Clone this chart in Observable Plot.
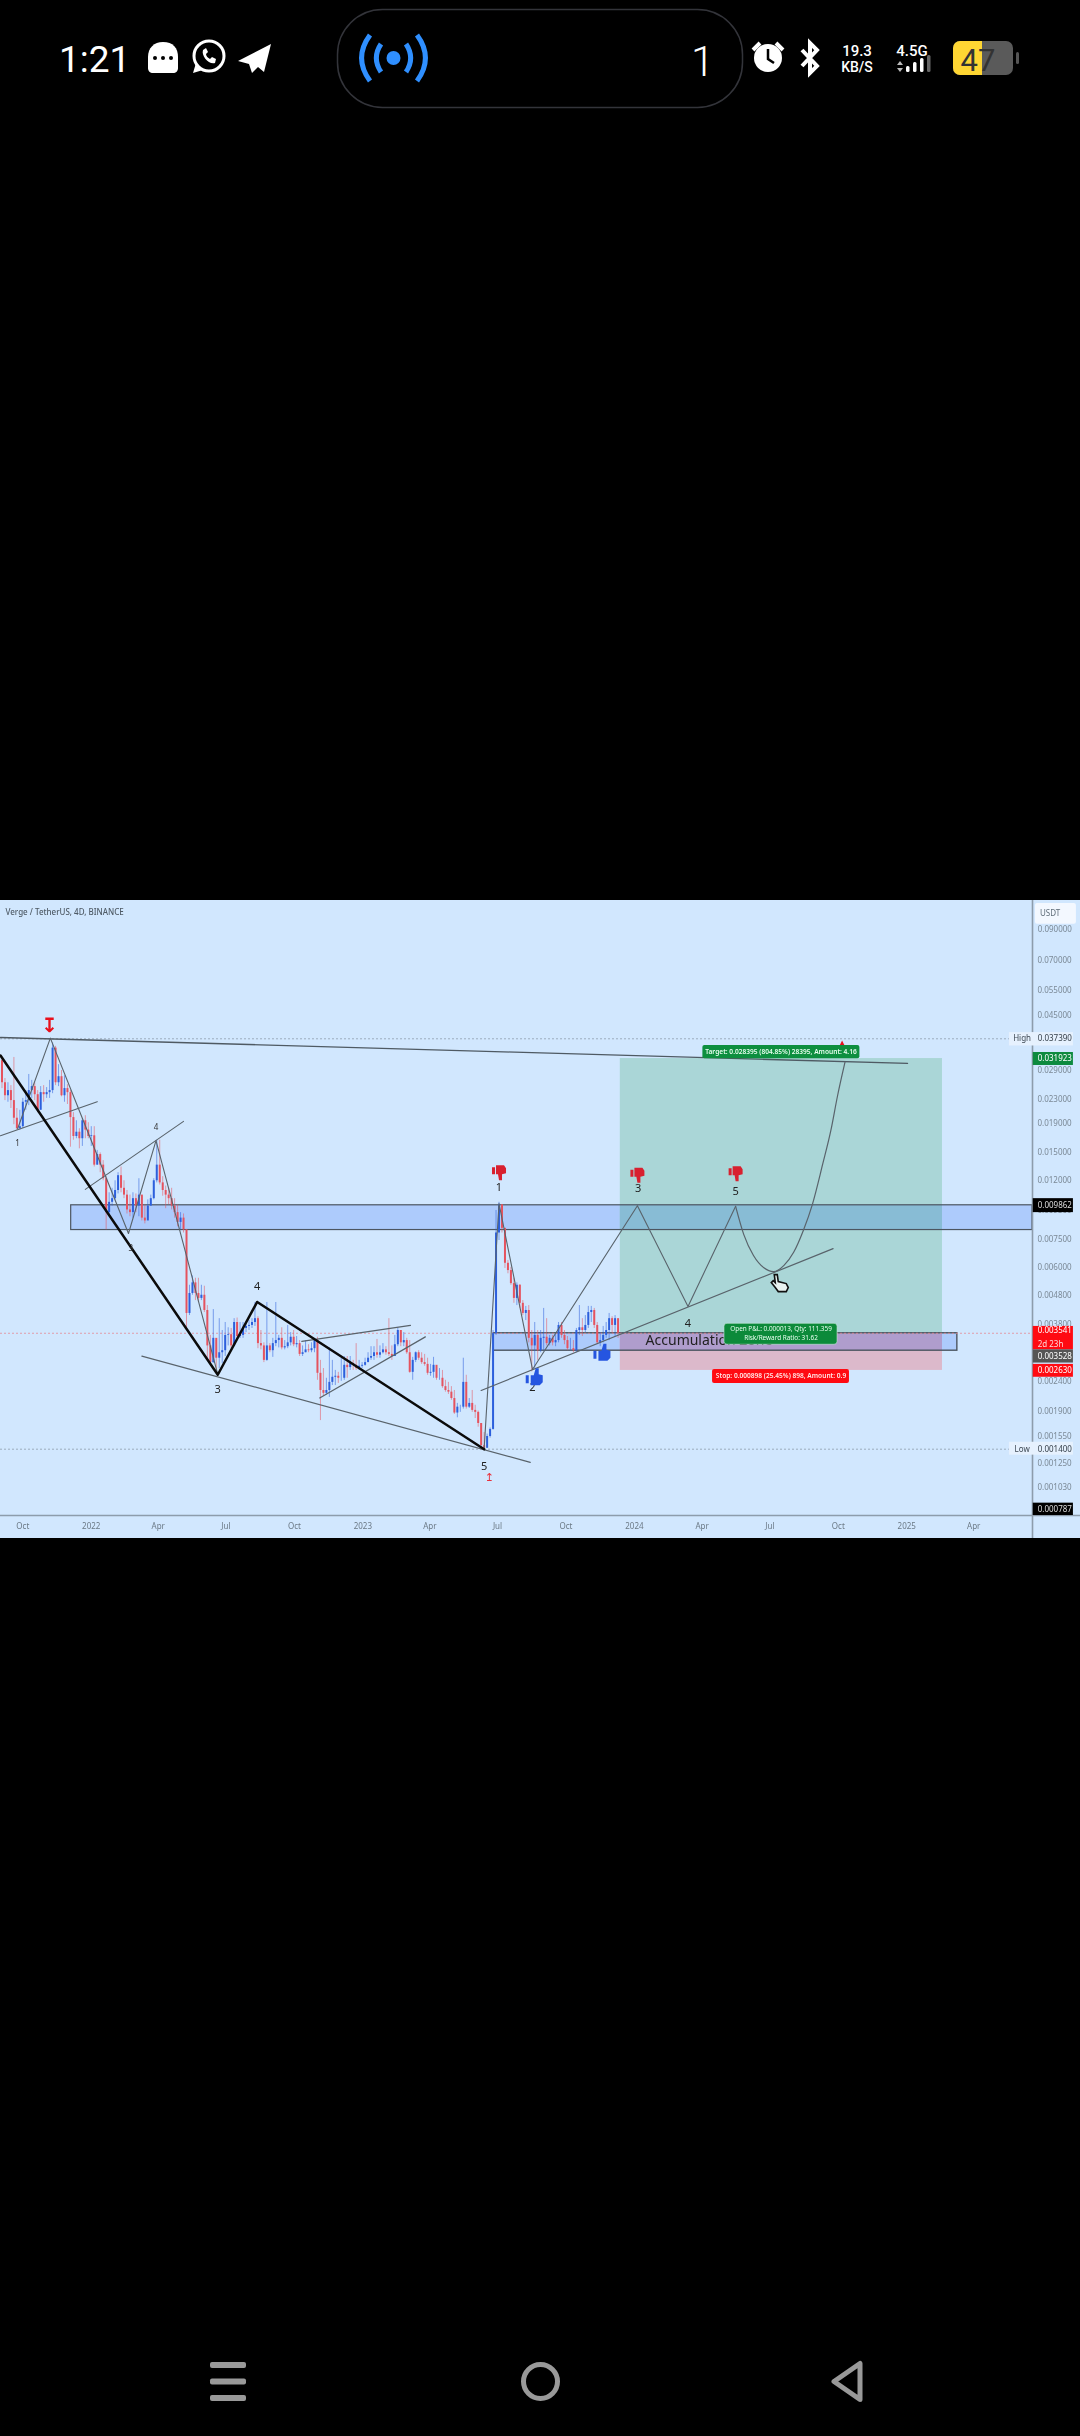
<!DOCTYPE html>
<html>
<head>
<meta charset="utf-8">
<script src="https://cdn.jsdelivr.net/npm/d3@7"></script>
<script src="https://cdn.jsdelivr.net/npm/@observablehq/plot@0.6"></script>
<style>
html,body{margin:0;padding:0;background:#000;width:1080px;height:2436px;overflow:hidden}
#chart{position:absolute;left:0;top:900px;width:1080px;height:638px;filter:blur(.45px)}
#chart svg{display:block}
.chrome{position:absolute;left:0;width:1080px}
</style>
</head>
<body>
<svg class="chrome" style="top:0" width="1080" height="120" viewBox="0 0 1080 120">
  <rect x="337.500" y="9.500" width="405" height="98" rx="45" fill="#000" stroke="#33343a" stroke-width="1.500"/>
  <text x="59" y="72" fill="#fff" font-family="Roboto" font-size="37">1:21</text>
  <path d="M163 42c10 0 15 6 15 15v11c0 3-2 5-5 5h-20c-3 0-5-2-5-5V57c0-9 6-15 15-15z" fill="#fff"/>
  <circle cx="155" cy="58" r="2" fill="#000"/><circle cx="163" cy="58" r="2" fill="#000"/><circle cx="171" cy="58" r="2" fill="#000"/>
  <circle cx="209" cy="56" r="15" fill="none" stroke="#fff" stroke-width="3"/><path d="M196 63l-3 10 10-3z" fill="#fff"/>
  <path d="M203 50c-2 6 6 15 12 13l1-4-4-2-2 2c-2-1-4-3-4-5l2-2-2-4z" fill="#fff"/>
  <path d="M271 44l-33 17 11 3 3 9 6-6 6 5z" fill="#fff"/>
  <g fill="none" stroke="#2f8fff" stroke-width="5">
    <path d="M370 35c-11 15-11 31 0 46"/><path d="M417 35c11 15 11 31 0 46"/>
    <path d="M381 44c-6 9-6 19 0 28"/><path d="M406 44c6 9 6 19 0 28"/>
  </g>
  <circle cx="393.500" cy="58" r="7" fill="#2f8fff"/>
  <text x="691" y="76" fill="#fff" font-family="Roboto" font-weight="300" font-size="42">1</text>
  <circle cx="768" cy="58" r="14" fill="#fff"/>
  <path d="M768 49v10l6 4" fill="none" stroke="#000" stroke-width="2.500"/>
  <path d="M753 50l7-7M783 50l-7-7" stroke="#fff" stroke-width="4"/>
  <path d="M802 50l15 16-7 7V43l7 7-15 16" fill="none" stroke="#fff" stroke-width="4"/>
  <text x="857" y="56" fill="#fff" font-family="Roboto" font-weight="500" font-size="15" text-anchor="middle">19.3</text>
  <text x="857" y="72" fill="#fff" font-family="Roboto" font-weight="500" font-size="14" text-anchor="middle">KB/S</text>
  <text x="912" y="56" fill="#fff" font-family="Roboto" font-weight="500" font-size="15" text-anchor="middle">4.5G</text>
  <path d="M897 65l3-4 3 4zM897 68l3 4 3-4z" fill="#bbb"/>
  <rect x="906" y="66" width="3.500" height="6" rx="1.500" fill="#fff"/><rect x="913" y="62" width="3.500" height="10" rx="1.500" fill="#fff"/>
  <rect x="920" y="58" width="3.500" height="14" rx="1.500" fill="#fff"/><rect x="927" y="55" width="3.500" height="17" rx="1.500" fill="#666"/>
  <rect x="953" y="41" width="60" height="34" rx="7" fill="#5a5a5a"/>
  <path d="M960 41h22v34h-22a7 7 0 0 1-7-7V48a7 7 0 0 1 7-7z" fill="#ffd633"/>
  <rect x="1016" y="52" width="3" height="12" rx="1.500" fill="#555"/>
  <text x="978" y="71" fill="#333" font-family="Roboto" font-size="31" text-anchor="middle">47</text>
</svg>
<div id="chart"></div>
<svg class="chrome" style="top:2340px" width="1080" height="90" viewBox="0 0 1080 90">
  <g fill="#999"><rect x="210" y="22" width="36" height="6" rx="2"/><rect x="210" y="38.500" width="36" height="6" rx="2"/><rect x="210" y="55" width="36" height="6" rx="2"/></g>
  <circle cx="540.500" cy="41.500" r="17" fill="none" stroke="#999" stroke-width="5"/>
  <path d="M860 23.500v36L834 41.500z" fill="none" stroke="#999" stroke-width="5" stroke-linejoin="round"/>
</svg>
<script>
// ---- 4-day candles, in thousandths of USDT ----
const firstCandle = "2021-09-03";
const candleStepDays = 4;
const firstOpen = 31.4;
const closes = [
26.3,23.7,24.7,22.8,19.8,18.2,18.5,22.5,22.8,24.7,
25.5,23.9,21.1,24.3,23.9,24.3,24.7,34.7,26.3,27.6,
23.7,25.1,24.3,19.9,17.1,17.7,16.8,19.4,18.0,17.1,
17.2,13.6,14.8,13.6,12.2,9.3,10.1,10.4,11.1,12.5,
11.3,10.7,9.5,9.3,10.4,9.8,10.7,8.9,8.7,9.8,
10.4,12.0,13.6,11.8,11.1,10.7,10.4,9.8,9.3,8.6,
8.9,8.1,4.15,4.87,5.3,4.87,4.68,4.8,4.25,3.2,
2.8,3.4,2.9,3.03,3.08,3.48,3.5,3.2,3.86,3.45,
3.48,3.68,3.74,3.77,3.86,3.98,3.26,3.2,2.85,3.2,
3.08,3.26,3.34,3.4,3.15,3.18,3.28,3.43,3.23,3.26,
2.99,3.03,3.1,3.08,3.13,3.34,2.57,2.24,2.19,2.24,
2.39,2.49,2.51,2.47,2.47,2.74,2.69,2.78,2.74,2.67,
2.72,2.74,2.8,2.9,2.94,3.03,2.97,3.03,3.1,3.03,
2.99,2.94,3.23,3.62,3.28,3.34,3.03,2.59,2.85,3.03,
2.9,2.8,2.76,2.57,2.59,2.74,2.47,2.47,2.31,2.24,
2.21,2.1,1.87,1.96,1.96,2.39,1.96,2.02,1.91,1.88,
1.72,1.44,1.41,1.55,1.64,3.53,7.9,9.9,8.2,6.2,
5.85,5.27,4.68,5.2,4.5,4.15,4.25,3.4,3.2,3.48,
3.08,3.4,3.43,3.26,3.4,3.28,3.34,3.77,3.48,3.34,
3.13,3.13,3.08,3.62,3.7,3.62,3.77,4.18,4.25,3.77,
3.28,3.34,3.48,3.62,3.98,3.77,3.98,3.541];
const highs = [
32.2,27.2,26.3,25.7,32.2,21.4,21.1,23.2,24.7,28.1,
26.8,26.3,24.7,25.5,25.7,25.3,26.8,36.2,35.2,30.4,
29.0,27.8,25.9,24.7,20.7,19.4,18.2,19.7,20.2,19.1,
18.5,18.5,15.3,15.0,14.1,12.4,10.9,11.3,12.0,12.8,
13.4,12.0,11.1,10.7,10.9,10.8,12.2,10.6,9.9,10.3,
10.7,12.2,16.6,16.6,12.4,11.5,11.3,11.3,10.4,9.9,
9.3,9.2,8.1,5.2,5.6,5.5,5.5,5.2,5.16,4.42,
3.48,4.28,3.34,3.98,3.62,3.86,3.7,3.68,3.98,4.0,
3.86,3.86,3.86,3.92,3.98,4.53,4.04,3.62,3.28,4.53,
3.26,3.4,4.53,3.48,3.7,3.34,3.77,3.56,3.62,3.45,
3.34,3.2,3.34,3.23,3.28,3.4,3.43,2.85,2.67,2.47,
3.15,2.85,2.63,2.59,2.9,2.94,2.94,2.94,2.85,3.26,
2.85,2.8,2.9,3.03,3.18,3.18,3.37,3.2,3.26,3.18,
3.98,3.2,3.48,3.68,3.62,3.56,3.4,3.34,2.92,3.05,
3.08,3.03,2.99,2.9,2.76,2.92,2.72,2.67,2.63,2.43,
2.39,2.31,2.24,2.02,1.99,2.9,2.53,2.1,2.24,1.99,
1.9,1.72,1.6,1.58,1.66,3.62,9.46,10.1,9.5,8.2,
6.34,6.0,5.5,5.3,5.23,4.6,4.39,4.42,3.62,3.86,
3.62,3.62,4.32,3.98,3.48,3.48,3.5,3.86,3.86,3.62,
3.45,3.4,3.34,3.68,4.42,3.98,4.08,4.39,4.39,4.32,
3.86,3.56,3.74,3.86,4.15,4.04,4.08,3.92];
const lows = [
25.1,22.8,22.5,21.4,18.8,18.0,18.0,18.2,21.1,21.9,
23.2,22.8,20.7,21.1,22.5,23.2,23.2,24.1,25.7,25.5,
23.5,22.5,22.1,15.7,16.6,16.8,15.5,15.8,16.8,16.8,
15.8,13.4,13.6,12.8,12.0,8.1,9.1,9.8,10.3,10.8,
10.9,10.4,9.2,9.0,8.9,9.3,9.0,8.7,8.5,8.9,
9.8,10.3,11.8,11.6,10.6,9.6,9.9,9.5,8.9,8.3,
8.1,7.9,3.68,4.08,4.8,4.6,4.53,4.6,4.18,2.85,
2.76,2.78,2.59,2.67,2.78,2.94,3.2,3.13,3.18,3.34,
3.4,3.4,3.56,3.62,3.68,3.74,3.13,3.1,2.8,2.83,
3.03,2.92,3.18,3.15,3.1,3.1,3.13,3.2,3.18,3.15,
2.94,2.94,3.03,3.03,3.03,3.03,2.43,1.76,2.14,2.16,
2.12,2.33,2.33,2.37,2.41,2.43,2.47,2.63,2.63,2.63,
2.63,2.67,2.72,2.8,2.85,2.85,2.9,2.9,3.0,2.97,
2.94,2.85,2.94,3.18,3.18,3.18,2.99,2.57,2.43,2.8,
2.85,2.76,2.72,2.53,2.51,2.47,2.43,2.43,2.28,2.21,
2.17,2.07,1.85,1.8,1.88,1.93,1.93,1.94,1.88,1.79,
1.67,1.41,1.4,1.42,1.53,1.63,3.48,7.44,7.9,5.95,
5.7,5.2,4.5,4.42,4.33,4.08,3.92,3.28,2.6,2.67,
2.85,3.03,3.08,3.2,3.2,3.2,3.18,3.28,3.4,3.23,
3.08,3.08,3.03,3.03,3.48,3.45,3.56,3.68,3.86,3.68,
3.23,3.18,3.28,3.4,3.34,3.53,3.45,3.4];

// ---- Time scale: offsets in days from the left edge of the chart ----
const chartStart = "2021-09-01";
const chartEndDays = 1387.3;
const day = n => d3.utcDay.offset(new Date(chartStart + "T00:00:00Z"), n);

// ---- Axes ----
const priceTicks = [70,55,45,29,23,19,15,12,9.5,7.5,6,4.8,3.8,2.4,1.9,1.55,1.25,1.03];
const topTick = 90;
const priceDomain = [0.8235,113.1];
const timeTickDates = ["2021-10-01","2022-01-01","2022-04-01","2022-07-01","2022-10-01","2023-01-01","2023-04-01","2023-07-01","2023-10-01","2024-01-01","2024-04-01","2024-07-01","2024-10-01","2025-01-01","2025-04-01"];
const timeTickLabels = ["Oct","2022","Apr","Jul","Oct","2023","Apr","Jul","Oct","2024","Apr","Jul","Oct","2025","Apr"];

// ---- Key prices ----
const pHigh = 37.39, pLow = 1.4, pLast = 3.541, pEntry = 3.528, pTarget = 31.923, pStop = 2.63;
const supplyZone = {d1:95.4,d2:chartEndDays,p1:8.09,p2:9.862};
const accumZone = {d1:663,d2:1286.5,p1:3.08,p2:3.541};
const positionDays = [833.5,1266];

// ---- Drawn lines: [offset days, price] ----
const topTrend = [[0,37.8],[1219,30.7]];
const thickWave = [[0,32.7],[292,2.54],[345,4.55],[650,1.4]];
const thinWave = [[23,18.2],[67,37.6],[110,19.8],[172,7.87],[209,16.56],[292,2.55]];
const channelA = [[0,17.2],[130,22.6]];
const channelB = [[114,11.2],[246,19.3]];
const wedgeLow = [[190,2.95],[712.5,1.26]];
const wedgeUpper = [[405.6,3.32],[551,3.77]];
const wedgeRise = [[429,2.11],[571,3.44]];
const riseTrend = [[646,2.24],[1119,6.97]];
const projection = [[650,1.4],[670,10.0],[715,2.65],[856,9.83],[924.5,4.39],[988,9.78]];
const projectionCurve = [[988,9.78],[999,7.8],[1012,6.6],[1026,5.98],[1039,5.8],[1053,6.1],[1066,6.77],[1079.5,8.06],[1091,9.9],[1105,13.7],[1116,17.95],[1125,23.7],[1135,31.0]];

// ---- Wave labels: [offset days, price, text] ----
const waveSmall = [[23,16.17,"1"],[209,18.4,"4"],[175,6.98,"3"]];
const waveLabels = [[292.5,2.26,"3"],[345,5.15,"4"],[650,1.22,"5"],[670,11.37,"1"],[715,2.3,"2"],[857,11.28,"3"],[924.5,3.83,"4"],[988,11.0,"5"]];
const thumbsDown = [[670,12.85],[856,12.6],[988,12.75]];
const thumbsUp = [[718,2.49],[809,3.03]];

// ---- Right-hand price tags ----
const tagX = [1388,1442.5], pillX = [1356,1442.5];
const priceTags = [
  {p1:30.2,p2:33.5,fill:"#0d8a3e",text:"0.031923",at:pTarget,ink:"#fff"},
  {p1:9.3,p2:10.4,fill:"#000",text:"0.009862",at:9.862,ink:"#ddd"},
  {p1:3.1,p2:3.74,fill:"#ff0a12",text:"0.003541",at:3.62,ink:"#fff"},
  {p1:2.79,p2:3.1,fill:"#555",text:"0.003528",at:2.94,ink:"#fff"},
  {p1:2.49,p2:2.76,fill:"#ff0a12",text:"0.002630",at:pStop,ink:"#fff"},
  {p1:0.8235,p2:0.909,fill:"#000",text:"0.000787",at:0.865,ink:"#ddd"}
];

const candles = closes.map((c,i)=>({
  date: d3.utcDay.offset(new Date(firstCandle+"T00:00:00Z"), i*candleStepDays),
  open: i ? closes[i-1] : firstOpen, close:c, high:highs[i], low:lows[i]
}));
const up = candles.filter(d=>d.close>=d.open), down = candles.filter(d=>d.close<d.open);
const RED="#e5535f", BLUE="#2c5fdc", UI='"Noto Sans"';
const pts = a => a.map(([d,p])=>({x:day(d),y:p}));
const box = (d1,d2,p1,p2,o) => Plot.rect([{}],{x1:day(d1),x2:day(d2),y1:p1,y2:p2,...o});
const path = (a,o) => Plot.line(pts(a),{x:"x",y:"y",...o});

const thumbDown = {draw(c){c.moveTo(-7,-5);c.lineTo(-4,-5);c.lineTo(-4,2);c.lineTo(-7,2);c.closePath();
  c.moveTo(-3,-7);c.lineTo(5,-7);c.lineTo(7,-4);c.lineTo(7,1);c.lineTo(3,2);c.lineTo(3,8);c.lineTo(0,8);c.lineTo(-1,2);c.lineTo(-3,2);c.closePath();}};
const thumbUp = {draw(c){c.moveTo(-9,-2);c.lineTo(-6,-2);c.lineTo(-6,6);c.lineTo(-9,6);c.closePath();
  c.moveTo(-4,-2);c.lineTo(-1,-2);c.lineTo(1,-9);c.lineTo(4,-9);c.lineTo(4,-3);c.lineTo(8,-2);c.lineTo(8,5);c.lineTo(5,8);c.lineTo(-4,8);c.closePath();}};
const handCursor = {draw(c){c.moveTo(-6,-9);c.lineTo(-3,-9);c.lineTo(-2,-2);c.lineTo(6,0);c.lineTo(8,4);c.lineTo(6,8);c.lineTo(-2,8);c.lineTo(-5,4);c.lineTo(-9,-1);c.lineTo(-7,-3);c.lineTo(-5,-1);c.closePath();}};

const chart = Plot.plot({
  width:1080, height:638,
  marginLeft:0, marginRight:48, marginTop:0, marginBottom:23,
  style:{background:"#d1e7fe",fontFamily:UI,overflow:"visible"},
  x:{type:"utc",domain:[day(0),day(chartEndDays)],axis:null},
  y:{type:"log",domain:priceDomain,axis:null},
  marks:[
    // zones and position
    box(supplyZone.d1,supplyZone.d2,supplyZone.p1,supplyZone.p2,{fill:"#adcbfc"}),
    box(accumZone.d1,accumZone.d2,accumZone.p1,accumZone.p2,{fill:"#adcbfc"}),
    box(positionDays[0],positionDays[1],pEntry,pTarget,{fill:"#aad6d7"}),
    box(positionDays[0],positionDays[1],pStop,pEntry,{fill:"#dcb9cb"}),
    box(positionDays[0],positionDays[1],supplyZone.p1,supplyZone.p2,{fill:"#88bcd5"}),
    box(positionDays[0],positionDays[1],accumZone.p1,pEntry,{fill:"#af9dcd"}),
    box(supplyZone.d1,supplyZone.d2,supplyZone.p1,supplyZone.p2,{stroke:"#4c5560",strokeWidth:1.2}),
    box(accumZone.d1,accumZone.d2,accumZone.p1,accumZone.p2,{stroke:"#4c5560",strokeWidth:1.4}),
    // reference lines
    Plot.ruleY([pHigh,pLow],{stroke:"#8f9dac",strokeWidth:.8,strokeDasharray:"2 2"}),
    Plot.ruleY([pLast],{stroke:"#e58a96",strokeWidth:.8,strokeDasharray:"2 2"}),
    // candles
    Plot.ruleX(up,{x:"date",y1:"low",y2:"high",stroke:BLUE,strokeWidth:1,strokeOpacity:.55}),
    Plot.ruleX(down,{x:"date",y1:"low",y2:"high",stroke:RED,strokeWidth:1,strokeOpacity:.55}),
    Plot.ruleX(up,{x:"date",y1:"open",y2:"close",stroke:BLUE,strokeWidth:2}),
    Plot.ruleX(down,{x:"date",y1:"open",y2:"close",stroke:RED,strokeWidth:2}),
    // drawings
    path(topTrend,{stroke:"#4f5a63",strokeWidth:1.4}),
    path(thinWave,{stroke:"#59636b",strokeWidth:1.1}),
    path(channelA,{stroke:"#59636b",strokeWidth:1.1}),
    path(channelB,{stroke:"#59636b",strokeWidth:1.1}),
    path(wedgeLow,{stroke:"#59636b",strokeWidth:1.2}),
    path(wedgeUpper,{stroke:"#59636b",strokeWidth:1.2}),
    path(wedgeRise,{stroke:"#59636b",strokeWidth:1.2}),
    path(riseTrend,{stroke:"#59636b",strokeWidth:1.2}),
    path(projection,{stroke:"#59636b",strokeWidth:1.1}),
    path(projectionCurve,{stroke:"#59636b",strokeWidth:1.2,curve:"monotone-x"}),
    path(thickWave,{stroke:"#0b0b0b",strokeWidth:2.5}),
    // wave text and glyphs
    Plot.text(waveSmall,{x:d=>day(d[0]),y:"1",text:"2",fill:"#333",fontSize:8}),
    Plot.text(waveLabels,{x:d=>day(d[0]),y:"1",text:"2",fill:"#222",fontSize:11}),
    Plot.dot(thumbsDown,{x:d=>day(d[0]),y:"1",symbol:thumbDown,fill:"#d8202f",stroke:"none",r:5}),
    Plot.dot(thumbsUp,{x:d=>day(d[0]),y:"1",symbol:thumbUp,fill:"#2555e0",stroke:"none",r:5}),
    Plot.text(["↧"],{x:day(66.5),y:41.6,fill:"#e8101c",fontSize:20,fontWeight:700,fontFamily:"DejaVu Sans"}),
    Plot.text(["↥"],{x:day(657),y:1.12,fill:"#e8303c",fontSize:11,fontFamily:"DejaVu Sans"}),
    Plot.text(["▲"],{x:day(1131.5),y:36,fill:"#e8101c",fontSize:10,fontFamily:"DejaVu Sans"}),
    Plot.dot([[1048.5,5.27]],{x:d=>day(d[0]),y:"1",symbol:handCursor,fill:"#e8f2f0",stroke:"#111",strokeWidth:1.6,r:5}),
    Plot.text(["Accumulation Zone"],{x:day(867),y:3.34,textAnchor:"start",fill:"#222",fontSize:14,fontFamily:UI}),
    // position labels
    box(944,1155,31.9,35.45,{fill:"#0d8f3f",rx:2}),
    Plot.text(["Target: 0.028395 (804.85%) 28395, Amount: 4.16"],{x:day(1049.5),y:33.7,fill:"#e8fff0",fontSize:6.6,fontWeight:600}),
    box(973,1125,3.23,3.82,{fill:"#0c8a3a",stroke:"#cfe9e0",strokeWidth:.6,rx:3}),
    Plot.text(["Open P&L: 0.000013, Qty: 111.359"],{x:day(1049),y:3.66,fill:"#e8fff0",fontSize:6.4}),
    Plot.text(["Risk/Reward Ratio: 31.62"],{x:day(1049),y:3.42,fill:"#e8fff0",fontSize:6.4}),
    box(957,1141,2.37,2.65,{fill:"#ff0a12",rx:2}),
    Plot.text(["Stop: 0.000898 (25.45%) 898, Amount: 0.9"],{x:day(1049),y:2.51,fill:"#ffe8e8",fontSize:6.6,fontWeight:600}),
    // title
    Plot.text(["Verge / TetherUS, 4D, BINANCE"],{frameAnchor:"top-left",dx:5,dy:9,fill:"#4f5b66",fontSize:8,fontWeight:500}),
    // axes
    Plot.axisY(priceTicks,{anchor:"right",tickSize:0,tickPadding:5,tickFormat:d=>(d/1000).toFixed(6),fill:"#7b8996",fontSize:8,label:null}),
    Plot.axisX(timeTickDates.map(d=>new Date(d+"T00:00:00Z")),{anchor:"bottom",tickSize:0,tickPadding:8,label:null,fill:"#6b7985",fontSize:8,
      tickFormat:d=>timeTickLabels[timeTickDates.indexOf(d.toISOString().slice(0,10))]}),
    Plot.ruleY([priceDomain[0]],{stroke:"#8d9cab",strokeWidth:1.6,insetRight:-48}),
    Plot.ruleX([day(chartEndDays)],{stroke:"#8d9cab",strokeWidth:1.6,insetBottom:-23}),
    // top tick, partly covered by the USDT pill
    Plot.text(["0.090000"],{x:day(1394),y:topTick,textAnchor:"start",fill:"#7b8996",fontSize:8}),
    box(1391,1446.5,93.5,110.5,{fill:"#f3f8ff",rx:2}),
    Plot.text(["USDT"],{x:day(1397),y:102,textAnchor:"start",fill:"#5f6d79",fontSize:8}),
    // High / Low pills
    box(pillX[0],pillX[1],35.3,39.3,{fill:"#e6f1fe"}),
    box(pillX[0],pillX[1],1.335,1.48,{fill:"#e6f1fe"}),
    Plot.text(["High"],{x:day(1373),y:pHigh,fill:"#3d4853",fontSize:8}),
    Plot.text(["Low"],{x:day(1373),y:pLow,fill:"#3d4853",fontSize:8}),
    Plot.text(["0.037390"],{x:day(1394),y:pHigh,textAnchor:"start",fill:"#333e48",fontSize:8}),
    Plot.text(["0.001400"],{x:day(1394),y:pLow,textAnchor:"start",fill:"#333e48",fontSize:8}),
    // coloured tags
    Plot.rect(priceTags,{x1:day(tagX[0]),x2:day(tagX[1]),y1:"p1",y2:"p2",fill:"fill"}),
    Plot.text(priceTags,{x:day(1394),y:"at",text:"text",textAnchor:"start",fill:"ink",fontSize:8}),
    Plot.text(["2d 23h"],{x:day(1394),y:3.24,textAnchor:"start",fill:"#ffd9d9",fontSize:8})
  ]
});
document.getElementById("chart").appendChild(chart);
</script>
</body>
</html>
